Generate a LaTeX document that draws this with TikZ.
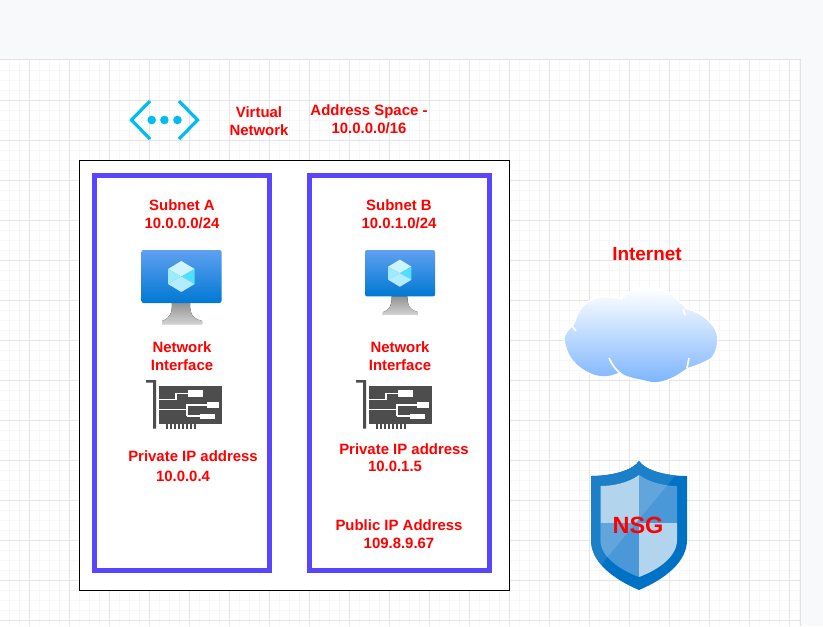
\documentclass[tikz,border=0pt]{standalone}
\usepackage{fontspec}
\setmainfont{Liberation Sans}
\definecolor{pagebg}{HTML}{F8F9FB}
\definecolor{pageedge}{HTML}{DFE1E5}
\definecolor{gridmajor}{HTML}{E6E6E6}
\definecolor{gridminor}{HTML}{F7F7F7}
\definecolor{labelred}{HTML}{FF0000}
\definecolor{subnetblue}{HTML}{5A45FF}
\definecolor{vnetcyan}{HTML}{00BCF2}
\definecolor{nicgray}{HTML}{4D4D4D}
\tikzset{
  lab/.style={text=labelred,font=\bfseries\fontsize{11.2}{13.5}\selectfont,align=center,inner sep=0pt},
  subnetbox/.style={draw=subnetblue,line width=3.75pt,fill=white},
  outerbox/.style={draw=black,line width=0.75pt,fill=white,outer sep=0pt},
  chevron/.style={draw=vnetcyan,line width=2.4pt},
  trace/.style={draw=white,line width=1.1pt},
}
\newcommand{\monitoricon}{%
  \fill[top color=gray!85,bottom color=gray!35] (172,303) -- (190,303) .. controls (190,314) and (192,318) .. (202,321) -- (202,324) -- (162,324) -- (162,321) .. controls (170,318) and (172,314) .. (172,303) -- cycle;
  \shade[rounded corners=1.5pt,top color={rgb,255:red,96;green,160;blue,240},bottom color={rgb,255:red,0;green,120;blue,212}] (141.5,250) rectangle (221.5,303);
  \fill[fill={rgb,255:red,205;green,244;blue,255}] (181.3,261) -- (194.6,269) -- (181.3,276.5) -- (168,269) -- cycle;
  \fill[fill={rgb,255:red,156;green,235;blue,255}] (168,269) -- (181.3,276.5) -- (168,284) -- cycle;
  \fill[fill={rgb,255:red,80;green,224;blue,255}] (194.6,269) -- (194.6,284) -- (181.3,276.5) -- cycle;
  \fill[fill={rgb,255:red,180;green,236;blue,255}] (168,284) -- (181.3,276.5) -- (194.6,284) -- (181.3,292) -- cycle;
}
\newcommand{\nicicon}{%
  \fill[nicgray] (146,380) -- (156,380) -- (156,428.5) -- (153,428.5) -- (153,382.5) -- (146,382.5) -- cycle;
  \fill[nicgray] (159,386) rectangle (222,423.5);
  \foreach \px in {166,170,174,178,182,186,190,194}{\fill[nicgray] (\px,423.5) rectangle ++(2,5.5);}
  \draw[trace] (159,399.5) -- (176,399.5) -- (176,393.5) -- (188,393.5);
  \draw[trace] (159,409.5) -- (187,409.5);
  \draw[trace] (187,416) -- (187,405) -- (207,405);
  \draw[trace] (187,416) -- (200,416);
  \fill[white] (188,390) rectangle (203,397);
  \fill[white] (207,402) rectangle (219,408);
  \fill[white] (200,413.5) rectangle (215,419);
}
\newcommand{\cloudpath}{%
  plot[smooth,tension=.7] coordinates {(572,327) (575,323) (583,307) (600,298) (617,299) (622,301)}
  -- plot[smooth,tension=.7] coordinates {(622,300) (633,291) (650,289) (667,293) (682,305) (685,309)}
  -- plot[smooth,tension=.7] coordinates {(685,309) (700,315) (713,327) (717,340) (713,355) (703,362) (687,368)}
  -- plot[smooth,tension=.7] coordinates {(687,368) (673,377) (657,382) (643,380) (627,376) (620,372)}
  -- plot[smooth,tension=.7] coordinates {(620,372) (607,376) (590,373) (573,360) (565,342) (567,333) (572,327)}
  -- cycle}
\begin{document}
\begin{tikzpicture}[x=0.75pt,y=-0.75pt]
\useasboundingbox (0,0) rectangle (823,626);
% page
\fill[pagebg] (0,0) rectangle (823,626);
\fill[white] (0,59.5) rectangle (800.5,626);
\foreach \gx in {9,19,39,49,59,79,89,99,119,129,139,159,169,179,199,209,219,239,249,259,279,289,299,319,329,339,359,369,379,399,409,419,439,449,459,479,489,499,519,529,539,559,569,579,599,609,619,639,649,659,679,689,699,719,729,739,759,769,779,799}
  {\draw[gridminor,line width=0.75pt] (\gx+.5,60) -- (\gx+.5,626);}
\foreach \gy in {70,80,90,110,120,130,150,160,170,190,200,210,230,240,250,270,280,290,310,320,330,350,360,370,390,400,410,430,440,450,470,480,490,510,520,530,550,560,570,590,600,610}
  {\draw[gridminor,line width=0.75pt] (0,\gy+.5) -- (800,\gy+.5);}
\foreach \gx in {29,69,...,789}
  {\draw[gridmajor,line width=0.75pt] (\gx+.5,60) -- (\gx+.5,626);}
\foreach \gy in {100,140,...,620}
  {\draw[gridmajor,line width=0.75pt] (0,\gy+.5) -- (800,\gy+.5);}
\draw[pageedge,line width=1.1pt] (0,59.5) -- (800.5,59.5) -- (800.5,626);
% boxes
\node[outerbox,minimum width=322.5pt,minimum height=322.5pt,inner sep=0pt,anchor=north west] (vnetbox) at (79.5,160.5) {};
\draw[subnetbox] (94.5,175.5) rectangle (269.5,570.5);
\draw[subnetbox] (309.5,175.5) rectangle (489.5,570.5);
% vnet icon
\draw[chevron] (150,101) -- (131.5,120) -- (150,139);
\draw[chevron] (179,101) -- (197.5,120) -- (179,139);
\fill[vnetcyan] (151.7,120) circle[radius=4.3] (164.4,120) circle[radius=4.3] (177.5,120) circle[radius=4.3];
% monitors
\monitoricon
\begin{scope}[shift={(400,250)},scale=0.875,shift={(-181.5,-250)}]
\monitoricon
\end{scope}
% NICs
\nicicon
\begin{scope}[shift={(210,0)}]
\nicicon
\end{scope}
% cloud
\draw[white,line width=2.2pt] \cloudpath;
\shade[top color=white,bottom color={rgb,255:red,125;green,181;blue,255}] \cloudpath;
\draw[white,line width=1.2pt] (572,326) -- (576,331);
\draw[white,line width=1.2pt] (609,358) .. controls (612,365) and (616,370) .. (621,374);
\draw[white,line width=1.2pt] (689,358) -- (687,368);
\draw[white,line width=1.2pt] (683,309) -- (685,315);
% shield
\begin{scope}
\clip (639,461) .. controls (645,470) and (665,476) .. (687,476) -- (687,540)
  .. controls (687,562) and (665,579) .. (639,590)
  .. controls (613,579) and (591,562) .. (591,540) -- (591,476)
  .. controls (613,476) and (633,470) .. (639,461) -- cycle;
\fill[fill={rgb,255:red,0;green,114;blue,198}] (585,455) rectangle (695,595);
\fill[fill={rgb,255:red,28;green,128;blue,200}] (585,455) -- (685,455) -- (675,476) -- (605,560) -- (585,590) -- cycle;
\end{scope}
\begin{scope}
\clip (639,475) .. controls (650,483) and (665,486) .. (677,486) -- (677,540)
  .. controls (677,556) and (660,569) .. (639,577)
  .. controls (618,569) and (600.5,556) .. (600.5,540) -- (600.5,486)
  .. controls (613,486) and (628,483) .. (639,475) -- cycle;
\fill[fill={rgb,255:red,179;green,212;blue,237}] (595,470) rectangle (639,523);
\fill[fill={rgb,255:red,179;green,212;blue,237}] (639,523) rectangle (680,580);
\fill[fill={rgb,255:red,75;green,152;blue,216}] (639,470) rectangle (680,523);
\fill[fill={rgb,255:red,75;green,152;blue,216}] (595,523) rectangle (639,580);
\fill[fill={rgb,255:red,98;green,165;blue,220}] (639,470) -- (680,470) -- (639,519) -- cycle;
\fill[fill={rgb,255:red,98;green,165;blue,220}] (595,523) -- (639,523) -- (639,519) -- (595,572) -- cycle;
\end{scope}
% labels
\node[lab] (vnetlabel) at (259,121) {Virtual\\Network};
\node[lab] (addr) at (369,119) {Address Space -\\10.0.0.0/16};
\node[lab] (subneta) at (182,214) {Subnet A\\10.0.0.0/24};
\node[lab] (subnetb) at (399,214) {Subnet B\\10.0.1.0/24};
\node[lab] (nica) at (182,356) {Network\\Interface};
\node[lab] (nicb) at (400,356) {Network\\Interface};
\node[lab] (privatea) at (193,456) {Private IP address};
\node[lab] (privateaddr) at (183,476) {10.0.0.4};
\node[lab] (privateb) at (404,449) {Private IP address};
\node[lab] (privatebddr) at (395,466) {10.0.1.5};
\node[lab] (publicb) at (399,534) {Public IP Address\\109.8.9.67};
\node[lab,font=\bfseries\fontsize{14.2}{16}\selectfont] (internet) at (647,254) {Internet};
\node[lab,font=\bfseries\fontsize{17.6}{20}\selectfont] (nsg) at (638,525) {NSG};
\end{tikzpicture}
\end{document}
